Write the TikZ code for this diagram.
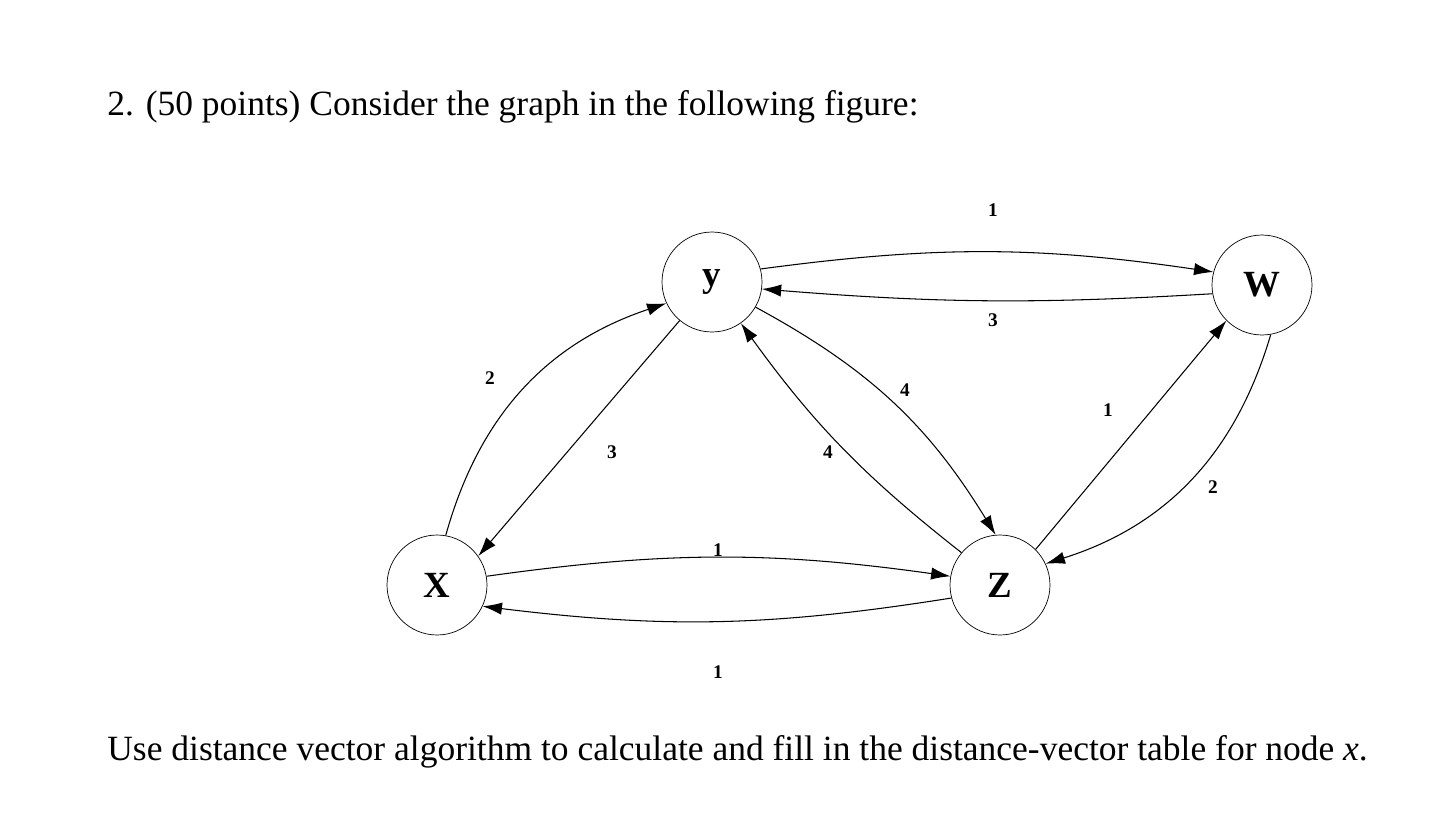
\documentclass[tikz,border=0pt]{standalone}
\usepackage{fontspec}
\setmainfont{Liberation Serif}
\usetikzlibrary{arrows.meta}
\begin{document}
\begin{tikzpicture}[x=0.02cm,y=-0.02cm,
  vert/.style={draw,circle,minimum size=2cm,inner sep=0pt,font=\fontsize{21}{24}\selectfont\bfseries},
  edge/.style={-{Latex[length=11pt,width=7pt]},line width=0.6pt},
  lab/.style={font=\fontsize{11}{13}\selectfont\bfseries}]
\useasboundingbox (0,0) rectangle (1438,832);
\node[anchor=base west,inner sep=0pt,font=\fontsize{20.2}{24}\selectfont] (t) at (107,115) {2. (50 points) Consider the graph in the following figure:};
\node[anchor=base west,inner sep=0pt,font=\fontsize{20.2}{24}\selectfont] (b) at (107,760) {Use distance vector algorithm to calculate and fill in the distance-vector table for node \textit{x}.};
\node[vert] (x) at (437,585) {X};
\node[vert] (y) at (712,282) {y};
\node[vert] (w) at (1262,285) {W};
\node[vert] (z) at (1000,585) {Z};
\draw[edge] (y.15) to[bend left=8] (w.165);
\draw[edge] (w.190) to[bend left=4] (y.-8);
\draw[edge] (x.80) to[bend left=28] (y.205);
\draw[edge] (y.230) -- (x.35);
\draw[edge] (y.-30) to[bend left=15] (z.95);
\draw[edge] (z.140) to[bend left=8] (y.-55);
\draw[edge] (z.45) -- (w.225);
\draw[edge] (w.-80) to[bend left=28] (z.25);
\draw[edge] (x.10) to[bend left=8] (z.170);
\draw[edge] (z.-165) to[bend left=8] (x.-25);
\node[lab] (l1) at (993,210) {1};
\node[lab] (l2) at (993,320) {3};
\node[lab] (l3) at (490,378) {2};
\node[lab] (l4) at (612,452) {3};
\node[lab] (l5) at (905,390) {4};
\node[lab] (l6) at (828,452) {4};
\node[lab] (l7) at (1108,410) {1};
\node[lab] (l8) at (1213,487) {2};
\node[lab] (l9) at (718,550) {1};
\node[lab] (l10) at (718,672) {1};
\end{tikzpicture}
\end{document}
